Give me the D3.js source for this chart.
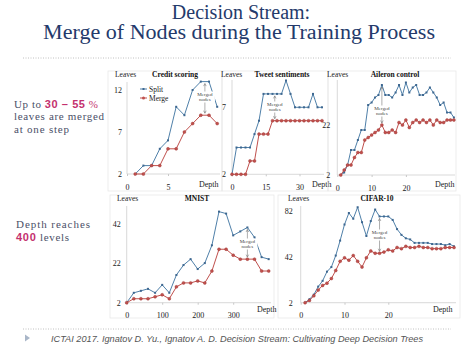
<!DOCTYPE html>
<html><head><meta charset="utf-8">
<script src="https://cdn.jsdelivr.net/npm/d3@7"></script>
<style>body{margin:0;background:#fff;} svg{display:block}</style>
</head><body>
<svg id="c" width="474" height="355"></svg>
<script>
// ---------- data ----------
const creditDepth = [1,2,3,4,5,6,7,8,9,10,11];
const creditSplit = [2,3,3,5,6,10,9,12,13,13,10];
const creditMerge = [2,2,3,3,5,5,7,8,9,9,8];
const creditYTicks = [2,7,12];
const creditXTicks = [0,5];

const tweetDepth = [0,2,4,6,8,10,12,14,16,18,20,22,24,26,28,30,32,34,36,38,40];
const tweetSplit = [2,4,4,4,4,5,6,8,8,8,8,8,9,8,7,7,7,7,8,7,7];
const tweetMerge = [2,2,2,2,3,3,5,5,5,6,6,6,6,6,6,6,6,6,6,6,6];
const tweetYTicks = [2,7];
const tweetXTicks = [0,15,30];

const aileronDepth = d3.range(1,35);
const aileronSplit = [2,3,6,12,12,16,20,20,30,31,33,34,38,34,34,33,35,38,34,39,35,37,38,34,34,35,37,35,33,30,31,27,27,25];
const aileronMerge = [2,4,6,6,9,11,11,16,17,18,19,20,22,19,19,20,19,23,22,24,21,23,24,23,24,23,24,22,24,23,23,24,24,24];
const aileronYTicks = [2,22];
const aileronXTicks = [0,10,20];

const mnistDepth = [0,20,40,60,80,100,120,140,160,180,200,220,240,260,280,300,320,340,360,380,400];
const mnistSplit = [2,7,8,9,7,11,7,16,21,24,19,22,31,48,47,36,38,40,35,25,24];
const mnistMerge = [2,4,4,4,5,6,4,10,12,12,13,12,18,29,29,26,24,24,24,18,18];
const mnistYTicks = [2,22,42];
const mnistXTicks = [0,100,200,300];

const cifarDepth = d3.range(1,36);
const cifarSplit = [2,5,9,16,21,29,33,43,56,70,80,75,85,72,60,73,83,77,77,77,74,66,61,58,57,54,54,54,54,53,53,53,52,53,51];
const cifarMerge = [2,4,8,13,17,19,23,30,38,41,39,43,38,33,41,47,45,45,46,48,47,50,49,51,50,50,51,50,50,49,49,49,50,50,50];
const cifarYTicks = [2,42,82];
const cifarXTicks = [0,10,20];

const seriesNames = ["Split","Merge"];
const titleLines = ["Decision Stream:","Merge of Nodes during the Training Process"];
const footerText = "ICTAI 2017. Ignatov D. Yu., Ignatov A. D. Decision Stream: Cultivating Deep Decision Trees";

// ---------- styles ----------
const SPLIT = "#4f80a9", MERGE = "#c0504d", NAVY = "#243a6b", PINK = "#c4306e", SLATE = "#4b5068";
const SERIF = "'Liberation Serif','Times New Roman',serif";
const SANS = "'Liberation Sans',Arial,sans-serif";

const svg = d3.select("#c");

// title
svg.append("text").attr("x",241).attr("y",19).attr("text-anchor","middle")
  .attr("font-family",SERIF).attr("font-size",20).attr("fill",NAVY).text(titleLines[0]);
svg.append("text").attr("x",239).attr("y",39).attr("text-anchor","middle")
  .attr("font-family",SERIF).attr("font-size",20).attr("fill",NAVY)
  .attr("textLength",392).attr("lengthAdjust","spacingAndGlyphs").text(titleLines[1]);

svg.append("line").attr("x1",23).attr("x2",451).attr("y1",58).attr("y2",58)
  .attr("stroke","#b0b0b0").attr("stroke-width",0.8).attr("stroke-dasharray","1,1.5");
svg.append("line").attr("x1",23).attr("x2",451).attr("y1",329).attr("y2",329)
  .attr("stroke","#b0b0b0").attr("stroke-width",0.8).attr("stroke-dasharray","1,1.5");

// left notes
const NFS = 11;
const t1 = svg.append("text").attr("x",14).attr("y",107.5).attr("font-family",SERIF).attr("font-size",NFS).attr("fill",SLATE)
  .attr("textLength",84).attr("lengthAdjust","spacing");
t1.append("tspan").text("Up to ");
t1.append("tspan").attr("font-family",SANS).attr("font-weight","bold").attr("fill",PINK).text("30 \u2013 55");
t1.append("tspan").attr("fill",PINK).text(" %");
svg.append("text").attr("x",14).attr("y",120).attr("font-family",SERIF).attr("font-size",NFS).attr("fill",SLATE)
  .attr("textLength",90).attr("lengthAdjust","spacing").text("leaves are merged");
svg.append("text").attr("x",14).attr("y",132.5).attr("font-family",SERIF).attr("font-size",NFS).attr("fill",SLATE)
  .attr("textLength",55).attr("lengthAdjust","spacing").text("at one step");
svg.append("text").attr("x",16).attr("y",228).attr("font-family",SERIF).attr("font-size",NFS).attr("fill",SLATE)
  .attr("textLength",74).attr("lengthAdjust","spacing").text("Depth reaches");
const t2 = svg.append("text").attr("x",16).attr("y",240.5).attr("font-family",SERIF).attr("font-size",NFS).attr("fill",SLATE)
  .attr("textLength",53).attr("lengthAdjust","spacing");
t2.append("tspan").attr("font-family",SANS).attr("font-weight","bold").attr("fill",PINK).text("400");
t2.append("tspan").text(" levels");

// footer
svg.append("path").attr("d","M25,334.5 L30,338 L25,341.5 Z").attr("fill","#a9b6c8");
svg.append("text").attr("x",51).attr("y",342).attr("font-family",SANS).attr("font-style","italic")
  .attr("font-size",9.5).attr("fill","#555").attr("textLength",372).attr("lengthAdjust","spacingAndGlyphs").text(footerText);

// ---------- panels ----------
function panel(c){
  const g = svg.append("g");
  const x = d3.scaleLinear().domain(c.xDom).range(c.xRange);
  const y = d3.scaleLinear().domain(c.yDom).range(c.yRange);
  // frame
  g.append("rect").attr("x",c.frame[0]).attr("y",c.frame[1]).attr("width",c.frame[2]-c.frame[0]).attr("height",c.frame[3]-c.frame[1])
    .attr("fill","none").attr("stroke","#e6e6e6").attr("stroke-width",0.7);
  // y axis
  const ya = g.append("g").attr("transform",`translate(${c.xRange[0]},0)`)
    .call(d3.axisLeft(y).tickValues(c.yTicks).tickSize(0).tickPadding(c.yPad).tickFormat(d3.format("d")));
  ya.select(".domain").attr("d",`M0,${c.yRange[0]}V${c.yTop}`).attr("stroke","#c8c8c8").attr("stroke-width",0.7);
  ya.selectAll("text").attr("font-family",SERIF).attr("font-size",8).attr("fill","#222");
  // x axis
  const xa = g.append("g").attr("transform",`translate(0,${c.yRange[0]})`)
    .call(d3.axisBottom(x).tickValues(c.xTicks).tickSize(2).tickPadding(c.xPad).tickFormat(d3.format("d")));
  xa.select(".domain").attr("d",`M${c.xRange[0]},0H${c.xRight}`).attr("stroke","#c8c8c8").attr("stroke-width",0.7);
  xa.selectAll(".tick line").attr("stroke","#c8c8c8");
  xa.selectAll("text").attr("font-family",SERIF).attr("font-size",8).attr("fill","#222");
  // labels
  g.append("text").attr("x",c.leaves[0]).attr("y",c.leaves[1]).attr("font-family",SERIF).attr("font-size",7.5).attr("fill","#222").text("Leaves");
  g.append("text").attr("x",c.depthLbl[0]).attr("y",c.depthLbl[1]).attr("font-family",SERIF).attr("font-size",8).attr("fill","#222").text("Depth");
  g.append("text").attr("x",c.titlePos[0]).attr("y",c.titlePos[1]).attr("text-anchor","middle").attr("font-family",SERIF)
    .attr("font-weight","bold").attr("font-size",7.5).attr("fill","#111").text(c.title);
  // lines
  const line = d3.line().x(d=>x(d[0])).y(d=>y(d[1]));
  const sData = c.depth.map((d,i)=>[d,c.split[i]]);
  const mData = c.depth.map((d,i)=>[d,c.merge[i]]);
  g.append("path").datum(sData).attr("d",line).attr("fill","none").attr("stroke",SPLIT).attr("stroke-width",1);
  g.append("path").datum(mData).attr("d",line).attr("fill","none").attr("stroke",MERGE).attr("stroke-width",1);
  g.selectAll(".sm").data(sData).join("rect").attr("x",d=>x(d[0])-1).attr("y",d=>y(d[1])-1).attr("width",2).attr("height",2).attr("fill","#3d6790");
  g.selectAll(".mm").data(mData).join("circle").attr("cx",d=>x(d[0])).attr("cy",d=>y(d[1])).attr("r",1.5).attr("fill",MERGE).attr("stroke","#9c3532").attr("stroke-width",0.4);
  // note
  if(c.note){
    const nx = x(c.note.depth);
    const y1 = y(c.note.sv)+2, y2 = y(c.note.mv)-2;
    g.append("line").attr("x1",nx).attr("x2",nx).attr("y1",y1).attr("y2",y2).attr("stroke","#777").attr("stroke-width",0.6);
    g.append("path").attr("d",`M${nx-1.3},${y1+2.5}L${nx},${y1}L${nx+1.3},${y1+2.5}`).attr("fill","none").attr("stroke","#777").attr("stroke-width",0.6);
    g.append("path").attr("d",`M${nx-1.3},${y2-2.5}L${nx},${y2}L${nx+1.3},${y2-2.5}`).attr("fill","none").attr("stroke","#777").attr("stroke-width",0.6);
    g.append("rect").attr("x",nx-10).attr("y",c.note.ty-5.5).attr("width",20).attr("height",11).attr("fill","#fff");
    g.append("text").attr("x",nx).attr("y",c.note.ty-0.8).attr("text-anchor","middle").attr("font-family",SERIF).attr("font-size",5).attr("fill","#444").text("Merged");
    g.append("text").attr("x",nx).attr("y",c.note.ty+4.2).attr("text-anchor","middle").attr("font-family",SERIF).attr("font-size",5).attr("fill","#444").text("nodes");
  }
  return {g,x,y};
}

const credit = panel({title:"Credit scoring",titlePos:[175,77],frame:[108,71,222,191],
  xDom:[0,11],xRange:[127,217.2],yDom:[2,12],yRange:[174,90],yTop:82,xRight:220,
  yTicks:creditYTicks,xTicks:creditXTicks,yPad:5,xPad:8,
  leaves:[115,77],depthLbl:[199,187],
  depth:creditDepth,split:creditSplit,merge:creditMerge,
  note:{depth:9.5,sv:13,mv:9,ty:97}});
// legend
const lg = credit.g.append("g");
[[SPLIT,89,"rect"],[MERGE,98,"circle"]].forEach((s,i)=>{
  lg.append("line").attr("x1",140).attr("x2",147).attr("y1",s[1]).attr("y2",s[1]).attr("stroke",s[0]).attr("stroke-width",1);
  if(s[2]==="rect") lg.append("rect").attr("x",142.5).attr("y",s[1]-1).attr("width",2).attr("height",2).attr("fill","#3d6790");
  else lg.append("circle").attr("cx",143.5).attr("cy",s[1]).attr("r",1.5).attr("fill",MERGE);
  lg.append("text").attr("x",149).attr("y",s[1]+2.5).attr("font-family",SERIF).attr("font-size",7.5).attr("fill","#222").text(seriesNames[i]);
});

panel({title:"Tweet sentiments",titlePos:[282,77],frame:[222,71,328,191],
  xDom:[0,40],xRange:[232,322],yDom:[2,7],yRange:[174.3,107.3],yTop:80,xRight:324,
  yTicks:tweetYTicks,xTicks:tweetXTicks,yPad:6,xPad:8,
  leaves:[221,77],depthLbl:[312,187],
  depth:tweetDepth,split:tweetSplit,merge:tweetMerge,
  note:{depth:19,sv:8,mv:6,ty:107}});

panel({title:"Aileron control",titlePos:[395,77],frame:[328,71,456,191],
  xDom:[0,34],xRange:[337.3,453.9],yDom:[2,22],yRange:[175,125],yTop:80,xRight:455,
  yTicks:aileronYTicks,xTicks:aileronXTicks,yPad:7,xPad:8,
  leaves:[327,77],depthLbl:[435,187],
  depth:aileronDepth,split:aileronSplit,merge:aileronMerge,
  note:{depth:13,sv:38,mv:22,ty:111}});

panel({title:"MNIST",titlePos:[197,201],frame:[110,195,274,318],
  xDom:[0,400],xRange:[126.7,268.7],yDom:[2,42],yRange:[302.7,223.5],yTop:206,xRight:271,
  yTicks:mnistYTicks,xTicks:mnistXTicks,yPad:6,xPad:8,
  leaves:[117,201],depthLbl:[257,312],
  depth:mnistDepth,split:mnistSplit,merge:mnistMerge,
  note:{depth:340,sv:40,mv:24,ty:244}});

panel({title:"CIFAR-10",titlePos:[377,201],frame:[278,195,460,318],
  xDom:[0,35],xRange:[300.7,454],yDom:[2,82],yRange:[302.7,210.7],yTop:206,xRight:456,
  yTicks:cifarYTicks,xTicks:cifarXTicks,yPad:8,xPad:8,
  leaves:[288,201],depthLbl:[433,312],
  depth:cifarDepth,split:cifarSplit,merge:cifarMerge,
  note:{depth:18,sv:77,mv:45,ty:235}});
</script>
</body></html>
